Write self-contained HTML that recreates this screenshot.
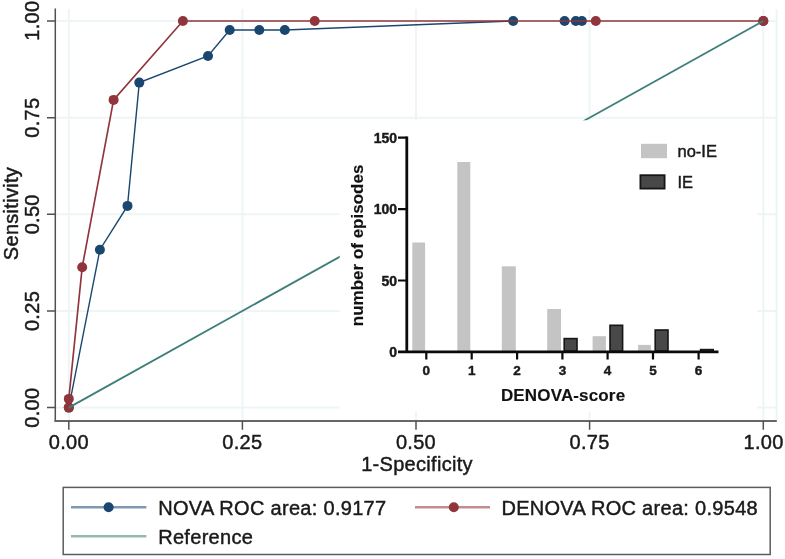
<!DOCTYPE html>
<html><head><meta charset="utf-8"><title>ROC curves</title>
<style>
html,body{margin:0;padding:0;background:#fff;}
body{width:785px;height:559px;overflow:hidden;}
svg{display:block;filter:blur(0.6px);}
text{font-family:"Liberation Sans",Arial,Helvetica,sans-serif;fill:#1a1a1a;stroke:#1a1a1a;stroke-width:0.45px;stroke-linejoin:round;}
.t20{font-size:20px;letter-spacing:0.3px;}
.b{font-weight:bold;fill:#111;stroke-width:0.15px;}
</style></head><body>
<svg id="fig" width="785" height="559" viewBox="0 0 785 559">
<rect width="785" height="559" fill="#fff"/>
<!-- gridlines -->
<g stroke="#eef5f6" stroke-width="2" fill="none">
<path d="M55.5 21H776.6M55.5 117.7H776.6M55.5 214.3H776.6M55.5 311H776.6M55.5 407.6H776.6"/>
<path d="M68.8 9V421M242.4 9V421M416 9V421M589.6 9V421M763.3 9V421M776.6 9V421"/>
</g>
<!-- NOVA -->
<g stroke="#1a476f" fill="#1a476f">
<polyline fill="none" stroke-width="1.4" points="68.8,407.6 99.9,249.7 127.5,205.9 139.3,82.6 208,56 229.7,30 259.3,30 284.8,30 513.2,21"/>
<g stroke="none"><circle cx="68.8" cy="407.6" r="5"/><circle cx="99.9" cy="249.7" r="5"/><circle cx="127.5" cy="205.9" r="5"/><circle cx="139.3" cy="82.6" r="5"/><circle cx="208" cy="56" r="5"/><circle cx="229.7" cy="30" r="5"/><circle cx="259.3" cy="30" r="5"/><circle cx="284.8" cy="30" r="5"/><circle cx="513.2" cy="21" r="5"/><circle cx="564.6" cy="21" r="5"/><circle cx="575.8" cy="21" r="5"/><circle cx="581.9" cy="21" r="5"/><circle cx="763.3" cy="21" r="5"/></g>
</g>
<!-- DENOVA -->
<g stroke="#90353b" fill="#90353b">
<polyline fill="none" stroke-width="1.65" points="68.8,407.6 68.8,398.9 82.2,267.2 113.6,99.9 182.9,21 314.7,21 595.8,21 763.3,21"/>
<g stroke="none"><circle cx="68.8" cy="407.6" r="5"/><circle cx="68.8" cy="398.9" r="5"/><circle cx="82.2" cy="267.2" r="5"/><circle cx="113.6" cy="99.9" r="5"/><circle cx="182.9" cy="21" r="5"/><circle cx="314.7" cy="21" r="5"/><circle cx="595.8" cy="21" r="5"/><circle cx="763.3" cy="21" r="5"/></g>
</g>
<!-- reference -->
<line x1="68.8" y1="407.6" x2="763.3" y2="21" stroke="#3f7f79" stroke-width="1.9"/>
<!-- inset -->
<rect x="339.7" y="120.3" width="417.3" height="291.5" fill="#fff"/>
<g fill="#c4c4c4">
<rect x="412.3" y="242.5" width="12.8" height="109"/>
<rect x="457.3" y="162" width="13" height="190"/>
<rect x="501.8" y="266.3" width="14" height="85"/>
<rect x="547.2" y="309" width="13.8" height="43"/>
<rect x="592.6" y="336.2" width="13.3" height="15"/>
<rect x="638.1" y="344.9" width="12.8" height="7"/>
</g>
<g fill="#484848" stroke="#161616" stroke-width="1.6">
<rect x="564.2" y="338.6" width="12.8" height="12.5"/>
<rect x="610" y="325.3" width="12.6" height="26"/>
<rect x="655.2" y="330" width="12.8" height="21"/>
<rect x="700.6" y="349.6" width="12.6" height="2"/>
</g>
<g stroke="#0a0a0a" stroke-width="2.8" fill="none">
<path d="M406.8 136.4V353.2M398 351.8H718.5"/>
<path d="M398 137.7H407M398 209.1H407M398 280.5H407" stroke-width="2.2"/>
<path d="M426.3 351V359.5M471.7 351V359.5M517.1 351V359.5M562.4 351V359.5M607.6 351V359.5M653 351V359.5M698.6 351V359.5" stroke-width="2.2"/>
</g>
<g class="b" font-size="14" text-anchor="end">
<text x="397" y="142.8">150</text><text x="397" y="214.2">100</text><text x="397" y="285.6">50</text><text x="397" y="357.2">0</text>
</g>
<g class="b" font-size="13.5" text-anchor="middle">
<text x="426.3" y="375.2">0</text><text x="471.7" y="375.2">1</text><text x="517.1" y="375.2">2</text><text x="562.4" y="375.2">3</text><text x="607.6" y="375.2">4</text><text x="653" y="375.2">5</text><text x="698.6" y="375.2">6</text>
</g>
<text class="b" font-size="17" letter-spacing="0.15" text-anchor="middle" x="563.1" y="400.5">DENOVA-score</text>
<text class="b" font-size="17" text-anchor="middle" transform="translate(363,245.4) rotate(-90)">number of episodes</text>
<rect x="641" y="143.8" width="26" height="14.4" fill="#c4c4c4"/>
<rect x="640.4" y="175.2" width="24.2" height="13.4" fill="#484848" stroke="#161616" stroke-width="1.8"/>
<text font-size="16.5" x="677.5" y="156.6" fill="#222">no-IE</text>
<text font-size="16.5" x="677.5" y="188" fill="#222">IE</text>
<!-- main axes -->
<g stroke="#505050" stroke-width="1.5" fill="none">
<path d="M55.3 8.5V421.8"/><path d="M54.5 421H776.8" stroke="#666" stroke-width="1.8"/>
<path d="M47 21H55.3M47 117.7H55.3M47 214.3H55.3M47 311H55.3M47 407.6H55.3"/>
<path d="M68.8 421V429.7M242.4 421V429.7M416 421V429.7M589.6 421V429.7M763.3 421V429.7"/>
</g>
<g class="t20" text-anchor="middle">
<text x="68.8" y="449.3">0.00</text><text x="242.4" y="449.3">0.25</text><text x="416" y="449.3">0.50</text><text x="589.6" y="449.3">0.75</text><text x="763.6" y="449.3">1.00</text>
<text x="417" y="470.8">1-Specificity</text>
<text transform="translate(38.5,407.6) rotate(-90)">0.00</text>
<text transform="translate(38.5,311) rotate(-90)">0.25</text>
<text transform="translate(38.5,214.3) rotate(-90)">0.50</text>
<text transform="translate(38.5,117.7) rotate(-90)">0.75</text>
<text transform="translate(38.5,20.6) rotate(-90)">1.00</text>
<text transform="translate(17.5,213.5) rotate(-90)">Sensitivity</text>
</g>
<!-- legend -->
<rect x="63.2" y="487.4" width="707" height="67.1" fill="#fff" stroke="#5c5c5c" stroke-width="1.5"/>
<line x1="71" y1="507.3" x2="146.4" y2="507.3" stroke="#7f99b3" stroke-width="2.6"/><circle cx="108.6" cy="507.3" r="5" fill="#1a476f"/>
<line x1="415" y1="507.3" x2="490" y2="507.3" stroke="#c48a8e" stroke-width="2.6"/><circle cx="453.8" cy="507.3" r="5" fill="#90353b"/>
<line x1="71" y1="536.3" x2="146.4" y2="536.3" stroke="#97b8b0" stroke-width="2.6"/>
<g class="t20">
<text x="158.2" y="515">NOVA ROC area: 0.9177</text>
<text x="501.4" y="515">DENOVA ROC area: 0.9548</text>
<text x="158.2" y="544.3">Reference</text>
</g>
</svg>
</body></html>
